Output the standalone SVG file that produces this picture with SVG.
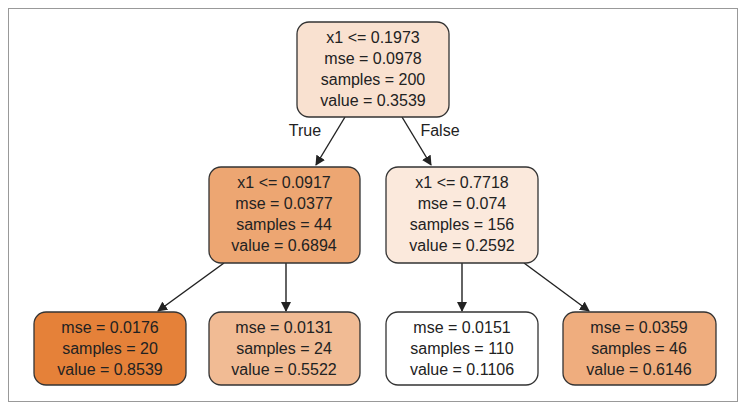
<svg xmlns="http://www.w3.org/2000/svg" width="746" height="410" viewBox="0 0 746 410">
<defs><marker id="a" markerWidth="10" markerHeight="10" refX="9" refY="5" orient="auto" markerUnits="userSpaceOnUse"><path d="M0,0 L10,5 L0,10 Z" fill="#222"/></marker></defs>
<style>
.n rect{stroke:#333;stroke-width:1.3}
text{font-family:"Liberation Sans",Arial,sans-serif;font-size:16px;fill:#222;text-anchor:middle}
.e line{stroke:#222;stroke-width:1.4;marker-end:url(#a)}
</style>
<rect x="8.5" y="8.5" width="729" height="393" fill="#fff" stroke="#999"/>
<g class="e">
<line x1="345" y1="117" x2="316" y2="165"/>
<line x1="402" y1="117" x2="431" y2="165"/>
<line x1="224" y1="263" x2="158" y2="311"/>
<line x1="286" y1="263" x2="286" y2="311"/>
<line x1="462" y1="263" x2="462" y2="311"/>
<line x1="524" y1="263" x2="589" y2="311"/>
</g>
<text x="305" y="136">True</text>
<text x="440" y="136">False</text>
<g class="n" id="n0"><rect x="297" y="22" width="152" height="95" rx="12" fill="#f9e1d0"/>
<text x="373" y="43">x1 &lt;= 0.1973</text><text x="373" y="64">mse = 0.0978</text><text x="373" y="85">samples = 200</text><text x="373" y="106">value = 0.3539</text></g>
<g class="n" id="n1"><rect x="209" y="167" width="151" height="96" rx="12" fill="#eda672"/>
<text x="284" y="188">x1 &lt;= 0.0917</text><text x="284" y="209">mse = 0.0377</text><text x="284" y="230">samples = 44</text><text x="284" y="251">value = 0.6894</text></g>
<g class="n" id="n2"><rect x="386" y="167" width="152" height="96" rx="12" fill="#fbe9dc"/>
<text x="462" y="188">x1 &lt;= 0.7718</text><text x="462" y="209">mse = 0.074</text><text x="462" y="230">samples = 156</text><text x="462" y="251">value = 0.2592</text></g>
<g class="n" id="n3"><rect x="34" y="312" width="152" height="73" rx="12" fill="#e58139"/>
<text x="110" y="333">mse = 0.0176</text><text x="110" y="354">samples = 20</text><text x="110" y="375">value = 0.8539</text></g>
<g class="n" id="n4"><rect x="209" y="312" width="151" height="73" rx="12" fill="#f1bb94"/>
<text x="284" y="333">mse = 0.0131</text><text x="284" y="354">samples = 24</text><text x="284" y="375">value = 0.5522</text></g>
<g class="n" id="n5"><rect x="386" y="312" width="152" height="73" rx="12" fill="#ffffff"/>
<text x="462" y="333">mse = 0.0151</text><text x="462" y="354">samples = 110</text><text x="462" y="375">value = 0.1106</text></g>
<g class="n" id="n6"><rect x="563" y="312" width="153" height="73" rx="12" fill="#efad7e"/>
<text x="639" y="333">mse = 0.0359</text><text x="639" y="354">samples = 46</text><text x="639" y="375">value = 0.6146</text></g>
</svg>
